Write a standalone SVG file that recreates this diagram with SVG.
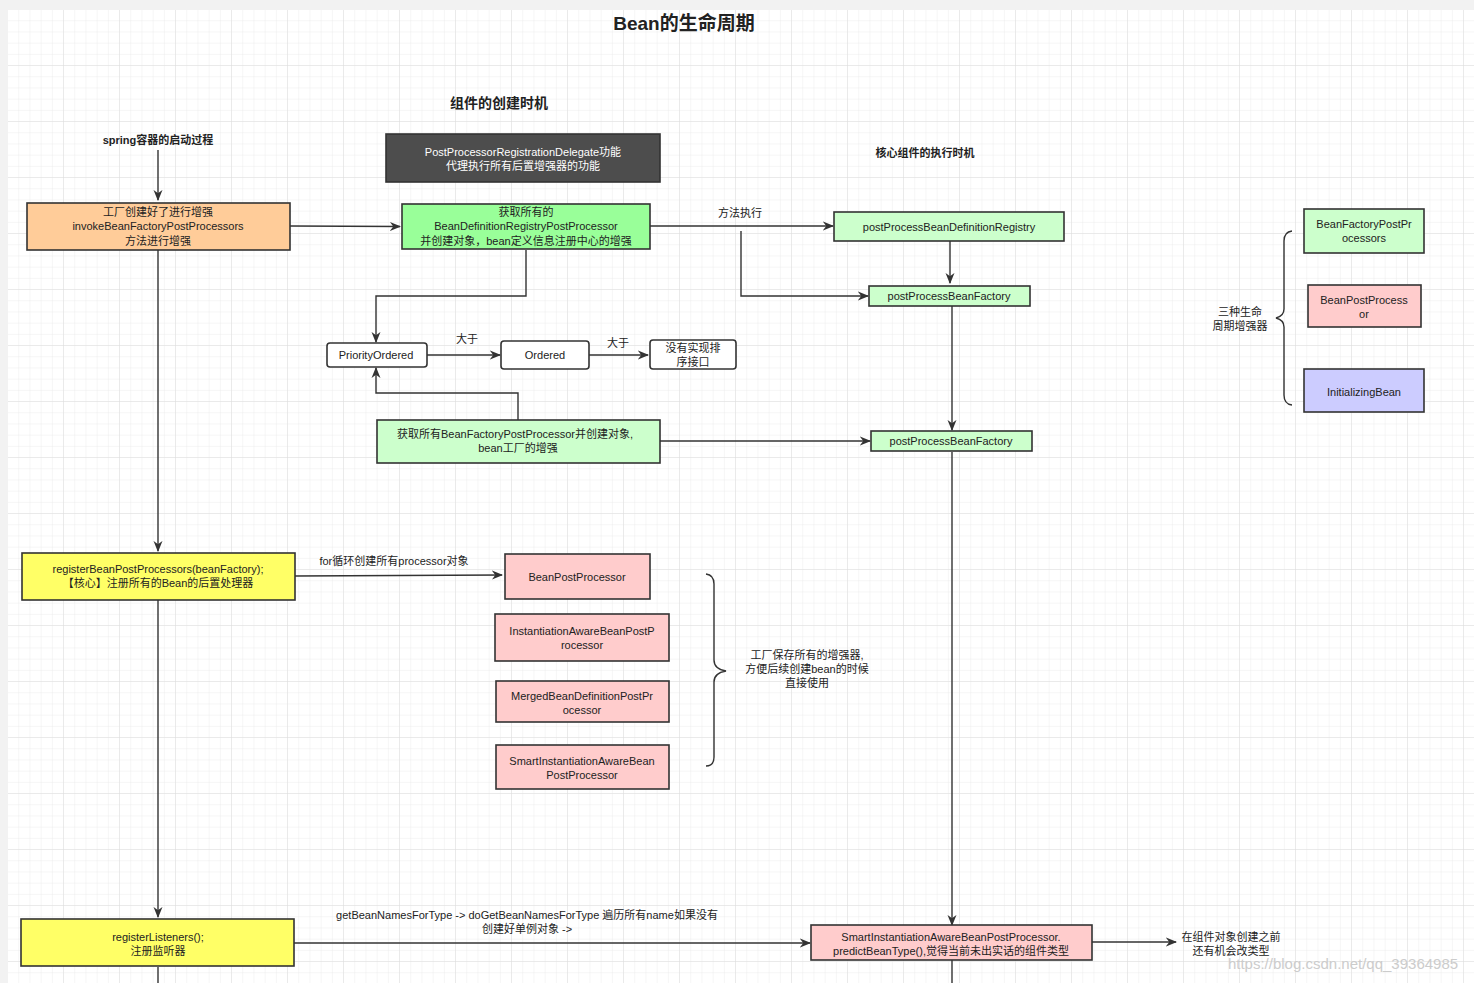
<svg xmlns="http://www.w3.org/2000/svg" width="1474" height="983" viewBox="0 0 1474 983">
<defs>
<pattern id="g" x="8" y="10" width="11.2" height="11.2" patternUnits="userSpaceOnUse"><path d="M11.2 0V11.2H0" fill="none" stroke="#ececec" stroke-width="1"/></pattern>
<pattern id="G" x="8" y="10" width="56" height="56" patternUnits="userSpaceOnUse"><path d="M56 0V56H0" fill="none" stroke="#dedede" stroke-width="1"/></pattern>
<marker id="a" viewBox="0 0 10 10" refX="9" refY="5" markerWidth="8" markerHeight="8" orient="auto"><path d="M0 1L10 5L0 9L3 5Z" fill="#333"/></marker>
</defs>
<style>
text{font-family:"Liberation Sans","Noto Sans CJK SC",sans-serif;font-size:11px;fill:#222;text-anchor:middle}
.b{stroke:#333;stroke-width:1.6}
.c path{fill:none;stroke:#333;stroke-width:1.4;marker-end:url(#a)}
.c .n{marker-end:none}
.h{font-weight:bold}
</style>
<rect width="1474" height="983" fill="#f2f2f2"/>
<rect x="8" y="10" width="1466" height="973" fill="#fff"/>
<rect x="8" y="10" width="1466" height="973" fill="url(#g)"/>
<rect x="8" y="10" width="1466" height="973" fill="url(#G)"/>
<text x="684" y="30" class="h" style="font-size:19px">Bean的生命周期</text>
<text x="499" y="108" class="h" style="font-size:14px">组件的创建时机</text>
<text x="158" y="144" class="h">spring容器的启动过程</text>
<text x="925" y="157" class="h">核心组件的执行时机</text>
<g class="c">
<path d="M158 150V200"/>
<path d="M290 226L400 226.5"/>
<path d="M650 226H833"/>
<path d="M526 250V296H376V342"/>
<path d="M427 355H500"/>
<path d="M589 355H648"/>
<path d="M518 420V393H376V368"/>
<path d="M950 241V283"/>
<path d="M741 231V296H868"/>
<path d="M952 306V430"/>
<path d="M660 441H870"/>
<path d="M158 250V551"/>
<path d="M295 576L502 575"/>
<path d="M158 600V917"/>
<path d="M294 943H810"/>
<path d="M952 452V925"/>
<path d="M1092 942H1176"/>
<path class="n" d="M158 967V983"/>
<path class="n" d="M952 960V983"/>
<path class="n" d="M706 574Q714 575 714 584V660Q714 669 726 671Q714 673 714 682V757Q714 766 706 766"/>
<path class="n" d="M1292 231Q1284 232 1284 241V309Q1284 316 1276 318Q1284 320 1284 327V395Q1284 404 1292 405"/>
</g>
<text x="740" y="217">方法执行</text>
<text x="467" y="343">大于</text>
<text x="618" y="347">大于</text>
<text x="394" y="565">for循环创建所有processor对象</text>
<text x="527" y="919">getBeanNamesForType -&gt; doGetBeanNamesForType 遍历所有name如果没有</text>
<text x="527" y="933">创建好单例对象 -&gt;</text>
<text x="807" y="659">工厂保存所有的增强器,</text>
<text x="807" y="673">方便后续创建bean的时候</text>
<text x="807" y="687">直接使用</text>
<text x="1240" y="316">三种生命</text>
<text x="1240" y="330">周期增强器</text>
<text x="1231" y="941">在组件对象创建之前</text>
<text x="1231" y="955">还有机会改类型</text>
<text x="1343" y="969" style="font-size:15px;fill:#ccc">https://blog.csdn.net/qq_39364985</text>
<g id="delegate"><rect x="386" y="134" width="274" height="48" fill="#4d4d4d" class="b"/><text x="523" y="156" style="fill:#fff">PostProcessorRegistrationDelegate功能</text><text x="523" y="170" style="fill:#fff">代理执行所有后置增强器的功能</text></g>
<g id="invoke"><rect x="27" y="203" width="263" height="47" fill="#ffcc99" class="b"/><text x="158" y="216">工厂创建好了进行增强</text><text x="158" y="230">invokeBeanFactoryPostProcessors</text><text x="158" y="245">方法进行增强</text></g>
<g id="bdrpp"><rect x="402" y="204" width="248" height="45" fill="#99ff99" class="b"/><text x="526" y="216">获取所有的</text><text x="526" y="230">BeanDefinitionRegistryPostProcessor</text><text x="526" y="245">并创建对象，bean定义信息注册中心的增强</text></g>
<g id="ppbdr"><rect x="834" y="212" width="230" height="29" fill="#ccffcc" class="b"/><text x="949" y="231">postProcessBeanDefinitionRegistry</text></g>
<g id="ppbf1"><rect x="869" y="286" width="161" height="20" fill="#ccffcc" class="b"/><text x="949" y="300">postProcessBeanFactory</text></g>
<g id="po"><rect x="327" y="343" width="100" height="24" rx="3" fill="#fff" class="b"/><text x="376" y="359">PriorityOrdered</text></g>
<g id="ord"><rect x="501" y="341" width="88" height="28" rx="3" fill="#fff" class="b"/><text x="545" y="359">Ordered</text></g>
<g id="none"><rect x="650" y="340" width="86" height="29" rx="3" fill="#fff" class="b"/><text x="693" y="352">没有实现排</text><text x="693" y="366">序接口</text></g>
<g id="bfpp"><rect x="377" y="420" width="283" height="43" fill="#ccffcc" class="b"/><text x="515" y="438">获取所有BeanFactoryPostProcessor并创建对象,</text><text x="518" y="452">bean工厂的增强</text></g>
<g id="ppbf2"><rect x="871" y="431" width="161" height="20" fill="#ccffcc" class="b"/><text x="951" y="445">postProcessBeanFactory</text></g>
<g id="rbpp"><rect x="22" y="553" width="273" height="47" fill="#ffff66" class="b"/><text x="158" y="573">registerBeanPostProcessors(beanFactory);</text><text x="158" y="587">【核心】注册所有的Bean的后置处理器</text></g>
<g id="bpp"><rect x="505" y="554" width="145" height="45" fill="#ffcccc" class="b"/><text x="577" y="581">BeanPostProcessor</text></g>
<g id="iabpp"><rect x="495" y="614" width="174" height="47" fill="#ffcccc" class="b"/><text x="582" y="635">InstantiationAwareBeanPostP</text><text x="582" y="649">rocessor</text></g>
<g id="mbdpp"><rect x="496" y="681" width="173" height="41" fill="#ffcccc" class="b"/><text x="582" y="700">MergedBeanDefinitionPostPr</text><text x="582" y="714">ocessor</text></g>
<g id="siabpp"><rect x="496" y="745" width="173" height="44" fill="#ffcccc" class="b"/><text x="582" y="765">SmartInstantiationAwareBean</text><text x="582" y="779">PostProcessor</text></g>
<g id="rl"><rect x="21" y="919" width="273" height="47" fill="#ffff66" class="b"/><text x="158" y="941">registerListeners();</text><text x="158" y="955">注册监听器</text></g>
<g id="predict"><rect x="811" y="925" width="281" height="35" fill="#ffcccc" class="b"/><text x="951" y="941">SmartInstantiationAwareBeanPostProcessor.</text><text x="951" y="955">predictBeanType(),觉得当前未出实话的组件类型</text></g>
<g id="k1"><rect x="1304" y="209" width="120" height="44" fill="#ccffcc" class="b"/><text x="1364" y="228">BeanFactoryPostPr</text><text x="1364" y="242">ocessors</text></g>
<g id="k2"><rect x="1308" y="285" width="113" height="42" fill="#ffcccc" class="b"/><text x="1364" y="304">BeanPostProcess</text><text x="1364" y="318">or</text></g>
<g id="k3"><rect x="1304" y="369" width="120" height="43" fill="#ccccff" class="b"/><text x="1364" y="396">InitializingBean</text></g>
</svg>
